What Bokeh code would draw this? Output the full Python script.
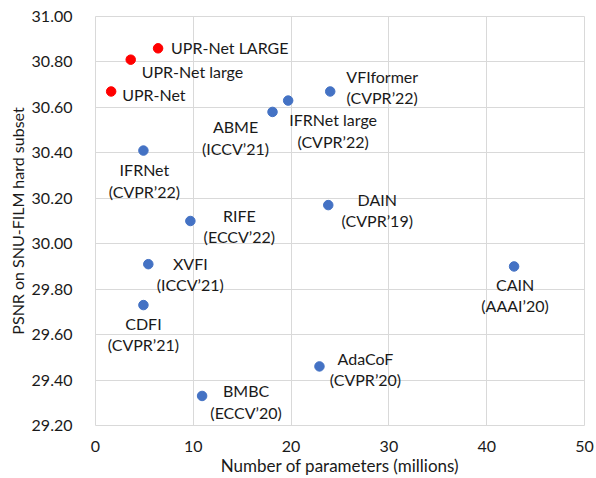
from bokeh.plotting import figure
from bokeh.models import ColumnDataSource, Range1d, FixedTicker, NumeralTickFormatter
from bokeh.core.properties import value
from bokeh.embed import file_html
from bokeh.resources import INLINE

# ---- data ----
names = ["UPR-Net LARGE", "UPR-Net large", "UPR-Net", "IFRNet", "ABME", "IFRNet large",
         "VFIformer", "DAIN", "RIFE", "XVFI", "CDFI", "BMBC", "AdaCoF", "CAIN"]
venues = ["", "", "", "(CVPR\u201922)", "(ICCV\u201921)", "(CVPR\u201922)",
          "(CVPR\u201922)", "(CVPR\u201919)", "(ECCV\u201922)", "(ICCV\u201921)", "(CVPR\u201921)",
          "(ECCV\u201920)", "(CVPR\u201920)", "(AAAI\u201920)"]
params = [6.4, 3.6, 1.6, 4.9, 18.1, 19.7, 24.0, 23.8, 9.7, 5.4, 4.9, 10.9, 22.9, 42.8]
psnr = [30.86, 30.81, 30.67, 30.41, 30.58, 30.63, 30.67, 30.17, 30.10, 29.91, 29.73, 29.33, 29.46, 29.90]
ours = [True, True, True] + [False] * 11

x_ticks = [0, 10, 20, 30, 40, 50]
y_ticks = [29.2, 29.4, 29.6, 29.8, 30.0, 30.2, 30.4, 30.6, 30.8, 31.0]

# ---- label layout (pixel offsets from the point) ----
lab_dx = [13, 11, 11, 1, -37, 45, 52, 49, 49, 42, 0, 44, 46, 1]
lab_dy = [-1, 12, 3, 19, 15, 19, -15, -6, -6, -1, 18, -5, -8, 18]
lab_align = ["left", "left", "left"] + ["center"] * 11
LINE_GAP = 21.5

FONT = "Lato"
GRID = "#D9D9D9"
TXT = "#1a1a1a"

colors = ["#FF0000" if o else "#4472C4" for o in ours]

src = ColumnDataSource(dict(
    x=params, y=psnr, name=names, venue=venues, color=colors,
    dx=lab_dx, dy=lab_dy, dy2=[d + LINE_GAP for d in lab_dy], align=lab_align,
))

p = figure(width=596, height=478, output_backend="svg", toolbar_location=None,
           x_range=Range1d(0, 50), y_range=Range1d(29.2, 31.0),
           min_border_left=95, min_border_right=12, min_border_top=16, min_border_bottom=50)

p.background_fill_color = "white"
p.border_fill_color = "white"
p.outline_line_color = GRID
p.outline_line_width = 1

p.xaxis.ticker = FixedTicker(ticks=x_ticks)
p.yaxis.ticker = FixedTicker(ticks=y_ticks)
p.yaxis.formatter = NumeralTickFormatter(format="0.00")

for ax in (p.xaxis, p.yaxis):
    ax.axis_line_color = None
    ax.major_tick_line_color = None
    ax.minor_tick_line_color = None
    ax.major_label_text_font = FONT
    ax.major_label_text_font_size = "16px"
    ax.major_label_text_color = TXT
    ax.axis_label_text_font = FONT
    ax.axis_label_text_font_style = "normal"
    ax.axis_label_text_color = TXT

p.xaxis.axis_label = "Number of parameters (millions)"
p.yaxis.axis_label = "PSNR on SNU-FILM hard subset"
p.xaxis.axis_label_text_font_size = "17px"
p.yaxis.axis_label_text_font_size = "16px"
p.yaxis.major_label_standoff = 17
p.xaxis.major_label_standoff = 9
p.yaxis.axis_label_standoff = 2
p.xaxis.axis_label_standoff = 0

p.xgrid.grid_line_color = GRID
p.ygrid.grid_line_color = GRID
p.xgrid.ticker = FixedTicker(ticks=x_ticks)
p.ygrid.ticker = FixedTicker(ticks=y_ticks)

p.scatter("x", "y", source=src, size=9.5, fill_color="color", line_color="color")

p.text("x", "y", text="name", source=src, x_offset="dx", y_offset="dy",
       text_align="align", text_baseline="middle",
       text_font=value(FONT), text_font_size="16px", text_color=TXT)
p.text("x", "y", text="venue", source=src, x_offset="dx", y_offset="dy2",
       text_align="align", text_baseline="middle",
       text_font=value(FONT), text_font_size="16px", text_color=TXT)

open("out.html", "w").write(file_html(p, INLINE))
